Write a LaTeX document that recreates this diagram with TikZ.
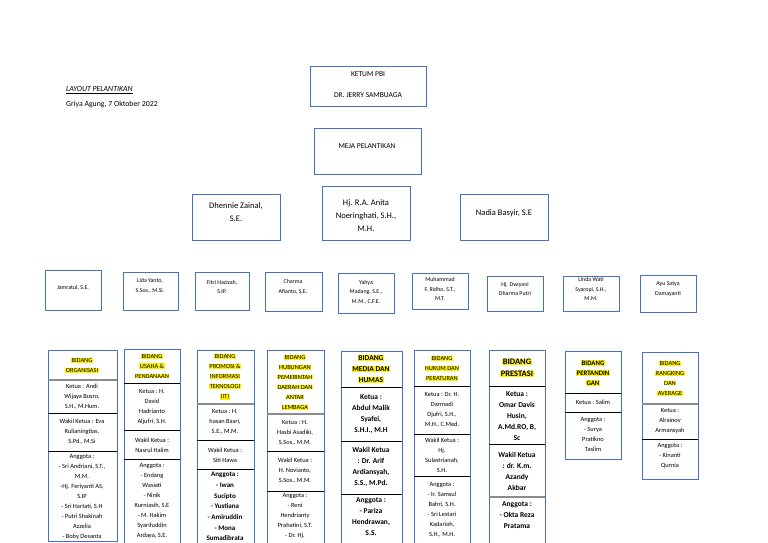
\documentclass[tikz,border=0pt]{standalone}
\usepackage{fontspec}
\setmainfont{Carlito}
\definecolor{bblue}{HTML}{4472C4}
\newcommand\fs[2]{\fontsize{#1}{#2}\selectfont}
\newcommand\hy[1]{{\setlength\fboxsep{0.4pt}\colorbox{yellow}{#1}}}
\begin{document}
\begin{tikzpicture}[x=1pt,y=-1pt,
  bx/.style={draw=bblue,line width=0.8pt},
  sep/.style={line width=1pt,black},
  gsep/.style={line width=1.6pt,black!45},
  txt/.style={align=center,inner sep=0pt,font=\fs{6.4}{10}},
  big/.style={align=center,inner sep=0pt,font=\fs{7.5}{11}\bfseries},
  nm/.style={align=center,inner sep=0pt,font=\fs{5.9}{9.5}}]
\useasboundingbox (0,0) rectangle (768,543);
\clip (0,0) rectangle (768,543);
% header texts
\node[anchor=west,inner sep=0pt,font=\fs{7.8}{9}\itshape] (lay) at (66,90) {\underline{LAYOUT PELANTIKAN}};
\node[anchor=west,inner sep=0pt,font=\fs{7.8}{9}] (gri) at (66,104) {Griya Agung, 7 Oktober 2022};
\draw[bx] (310,66) rectangle (426,106);
\node[txt,font=\fs{7.5}{9}] (ketum) at (368,74) {KETUM PBI};
\node[txt,font=\fs{7.5}{9}] (jerry) at (368,95) {DR. JERRY SAMBUAGA};
\draw[bx] (314,128) rectangle (421,174);
\node[txt,font=\fs{7.5}{9}] (meja) at (367,146) {MEJA PELANTIKAN};
\draw[bx] (192,194) rectangle (280,240);
\node[txt,font=\fs{8.5}{13}] (dh) at (236,212) {Dhennie Zainal,\\S.E.};
\draw[bx] (322,186) rectangle (410,240);
\node[txt,font=\fs{8.5}{13}] (an) at (366,216) {Hj. R.A. Anita\\Noeringhati, S.H.,\\M.H.};
\draw[bx] (460,194) rectangle (548,240);
\node[txt,font=\fs{8.5}{13}] (na) at (504,213) {Nadia Basyir, S.E};
% name boxes
\draw[bx] (45,270) rectangle (101,310); \node[nm] (n1) at (73,288) {Jamratul, S.E.};
\draw[bx] (123,272) rectangle (178,310); \node[nm] (n2) at (150,286) {Lida Yanto,\\S.Sos., M.Si.};
\draw[bx] (195,272) rectangle (249,310); \node[nm] (n3) at (222,287) {Fitri Hazizah,\\S.IP.};
\draw[bx] (265,272) rectangle (322,311); \node[nm] (n4) at (293,287) {Charma\\Afianto, S.E.};
\draw[bx] (338,273) rectangle (394,313); \node[nm] (n5) at (366,292) {Yahya\\Madang, S.E.,\\M.M., C.F.E.};
\draw[bx] (412,273) rectangle (468,309); \node[nm] (n6) at (440,289) {Muhammad\\F. Ridho, S.T.,\\M.T.};
\draw[bx] (487,276) rectangle (543,311); \node[nm] (n7) at (515,289) {Hj. Dwiyani\\Dharma Putri};
\draw[bx] (563,276) rectangle (619,311); \node[nm] (n8) at (591,289) {Linda Wati\\Syaropi, S.H.,\\M.M.};
\draw[bx] (640,275) rectangle (696,312); \node[nm] (n9) at (668,289) {Ayu Satya\\Damayanti};
% col1
\draw[bx] (48,350) rectangle (117,541);
\draw[gsep] (48,380)--(117,380); \draw[sep] (48,413)--(117,413); \draw[sep] (48,451)--(117,451);
\node[txt] (c1h) at (82,365) {\hy{BIDANG}\\\hy{ORGANISASI}};
\node[txt] (c1k) at (82,397) {Ketua : Andi\\Wijaya Busro,\\S.H., M.Hum.};
\node[txt] (c1w) at (82,432) {Wakil Ketua : Eva\\Rulianingtias,\\S.Pd., M.Si};
\node[txt,anchor=north] (c1a) at (82,454) {Anggota :\\- Sri Andriani, S.T.,\\M.M.\\-Hj. Feriyanti AS,\\S.IP\\- Sri Hartati, S.H\\- Putri Shakinah\\Azzelia\\- Boby Desanta};
% col2
\draw[bx] (124,349) rectangle (180,560);
\draw[sep] (124,383)--(180,383); \draw[sep] (124,430)--(180,430); \draw[sep] (124,459)--(180,459);
\node[txt] (c2h) at (152,366) {\hy{BIDANG}\\\hy{USAHA \&}\\\hy{PENDANAAN}};
\node[txt] (c2k) at (152,407) {Ketua : H.\\David\\Hadrianto\\Aljufri, S.H.};
\node[txt] (c2w) at (152,445) {Wakil Ketua :\\Nasrul Halim};
\node[txt,anchor=north] (c2a) at (152,463) {Anggota :\\- Endang\\Wasiati\\- Ninik\\Kurniasih, S.E\\- M. Hakim\\Syarifuddin\\Ardaya, S.E.};
% col3
\draw[bx] (197,350) rectangle (254,560);
\draw[gsep] (197,404)--(254,404); \draw[sep] (197,440)--(254,440); \draw[sep] (197,469)--(254,469);
\node[txt] (c3h) at (225,377) {\hy{BIDANG}\\\hy{PROMOSI \&}\\\hy{INFORMASI}\\\hy{TEKNOLOGI}\\\hy{(IT)}};
\node[txt] (c3k) at (225,422) {Ketua : H.\\hasan Basri,\\S.E., M.M.};
\node[txt] (c3w) at (225,455) {Wakil Ketua :\\Siti Hawa};
\node[txt,anchor=north,font=\fs{7}{10.7}\bfseries] (c3a) at (225,472) {Anggota :\\- Iwan\\Sucipto\\- Yustiana\\- Amiruddin\\- Mona\\Sumadibrata};
% col4
\draw[bx] (267,350) rectangle (324,560);
\draw[gsep] (267,414)--(324,414); \draw[sep] (267,451)--(324,451); \draw[sep] (267,491)--(324,491);
\node[txt] (c4h) at (295,382) {\hy{BIDANG}\\\hy{HUBUNGAN}\\\hy{PEMERINTAH}\\\hy{DAERAH DAN}\\\hy{ANTAR}\\\hy{LEMBAGA}};
\node[txt] (c4k) at (295,433) {Ketua : H.\\Hasbi Asadiki,\\S.Sos., M.M.};
\node[txt] (c4w) at (295,471) {Wakil Ketua :\\H. Novianto,\\S.Sos., M.M.};
\node[txt,anchor=north] (c4a) at (295,493) {Anggota :\\- Reni\\Hendrianty\\Prahatini, S.T.\\- Dr. Hj.};
% col5
\draw[bx] (341,351) rectangle (402,560);
\draw[sep] (341,387)--(402,387); \draw[sep] (341,441)--(402,441); \draw[sep] (341,494)--(402,494);
\node[big] (c5h) at (371,369) {\hy{BIDANG}\\\hy{MEDIA DAN}\\\hy{HUMAS}};
\node[big] (c5k) at (371,414) {Ketua :\\Abdul Malik\\Syafei,\\S.H.I., M.H};
\node[big] (c5w) at (371,467) {Wakil Ketua\\: Dr. Arif\\Ardiansyah,\\S.S., M.Pd.};
\node[big,anchor=north] (c5a) at (371,497) {Anggota :\\- Pariza\\Hendrawan,\\S.S.};
% col6
\draw[bx] (414,350) rectangle (470,560);
\draw[sep] (414,386)--(470,386); \draw[sep] (414,434)--(470,434); \draw[sep] (414,476)--(470,476);
\node[txt] (c6h) at (442,368) {\hy{BIDANG}\\\hy{HUKUM DAN}\\\hy{PERATURAN}};
\node[txt] (c6k) at (442,410) {Ketua : Dr. H.\\Darmadi\\Djufri, S.H.,\\M.H., C.Med.};
\node[txt] (c6w) at (442,455) {Wakil Ketua :\\Hj.\\Sulastrianah,\\S.H.};
\node[txt,anchor=north] (c6a) at (442,482) {Anggota :\\- Ir. Samsul\\Bahri, S.H.\\- Sri Lestari\\Kadariah,\\S.H., M.H.};
% col7
\draw[bx] (489,350) rectangle (545,560);
\draw[sep] (489,386)--(545,386); \draw[sep] (489,444)--(545,444); \draw[gsep] (489,497)--(545,497);
\node[big,font=\fs{8.5}{12}\bfseries] (c7h) at (517,368) {\hy{BIDANG}\\\hy{PRESTASI}};
\node[big] (c7k) at (517,416) {Ketua :\\Omar Davis\\Husin,\\A.Md.RO, B,\\Sc};
\node[big] (c7w) at (517,471) {Wakil Ketua\\: dr. K.m.\\Azandy\\Akbar};
\node[big,anchor=north] (c7a) at (517,501) {Anggota :\\- Okta Reza\\Pratama};
% col8
\draw[bx] (565,351) rectangle (621,459);
\draw[sep] (565,393)--(621,393); \draw[sep] (565,412)--(621,412);
\node[txt,font=\fs{6.8}{10}\bfseries] (c8h) at (593,373) {\hy{BIDANG}\\\hy{PERTANDIN}\\\hy{GAN}};
\node[txt] (c8k) at (593,402) {Ketua : Salim};
\node[txt,anchor=north] (c8a) at (593,417) {Anggota :\\- Surya\\Pratikno\\Taslim};
% col9
\draw[bx] (642,352) rectangle (698,479);
\draw[gsep] (642,404)--(698,404); \draw[sep] (642,439)--(698,439);
\node[txt] (c9h) at (670,378) {\hy{BIDANG}\\\hy{RANGKING}\\\hy{DAN}\\\hy{AVERAGE}};
\node[txt] (c9k) at (670,421) {Ketua :\\Alrainov\\Armansyah};
\node[txt,anchor=north] (c9a) at (670,443) {Anggota :\\- Kinanti\\Qurnia};
\end{tikzpicture}
\end{document}
